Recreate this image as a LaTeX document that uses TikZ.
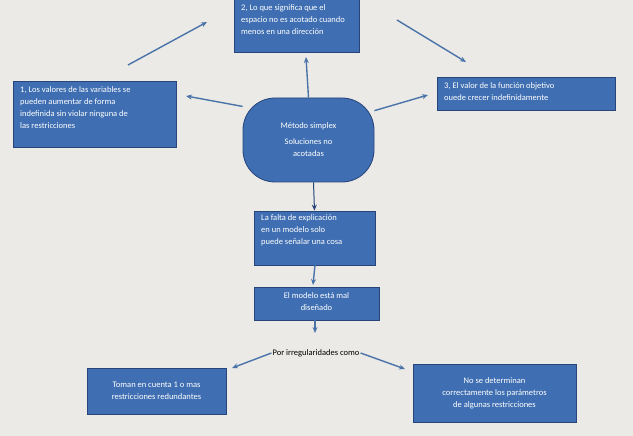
\documentclass[tikz,border=0pt]{standalone}
\usepackage{fontspec}
\setmainfont{Carlito}
\usetikzlibrary{arrows.meta}
\definecolor{bg}{HTML}{EBEAE6}
\definecolor{boxf}{HTML}{3F6FB2}
\definecolor{boxd}{HTML}{27457A}
\definecolor{arr}{HTML}{4A73AA}
\tikzset{
 bx/.style={draw=boxd,fill=boxf,line width=0.8pt,text=white,font=\fontsize{8.5}{12}\selectfont,align=left,inner sep=0pt},
 ar/.style={draw=arr,line width=1.4pt,-{Stealth[length=6pt,width=5pt]}},
 lbl/.style={text=white,font=\fontsize{8.5}{12}\selectfont,align=left,anchor=north west,inner sep=0pt}
}
\begin{document}
\begin{tikzpicture}[x=1pt,y=-1pt]
\fill[bg] (0,0) rectangle (633,436);
\useasboundingbox (0,0) rectangle (633,436);
% boxes
\draw[bx] (234,-2) rectangle (359,52);
\node[lbl] (t2) at (241,4) {2, Lo que significa que el\\espacio no es acotado cuando\\menos en una dirección};
\coordinate (b2) at (306,52);
\draw[bx] (13,81) rectangle (176,147);
\node[lbl] (t1) at (20,86) {1, Los valores de las variables se\\pueden aumentar de forma\\indefinida sin violar ninguna de\\las restricciones};
\draw[bx] (437,77) rectangle (615,110);
\node[lbl] (t3) at (444,82) {3, El valor de la función objetivo\\ouede crecer indefinidamente};
\node[bx,rounded corners=32pt,minimum width=131pt,minimum height=84pt,align=center] (c) at (308.5,140) {Método simplex\\[4pt]Soluciones no\\acotadas};
\node[bx,minimum width=121pt,minimum height=54pt] (b4) at (314.5,238) {};
\node[lbl] at (261,214) {La falta de explicación\\en un modelo solo\\puede señalar una cosa};
\node[bx,minimum width=125pt,minimum height=33pt] (b5) at (316.5,303.5) {};
\begin{scope}
\clip (254,287) rectangle (379,320);
\node[text=white,font=\fontsize{8.5}{12}\selectfont,align=center,anchor=north,inner sep=0pt] at (316.5,292) {El modelo está mal\\diseñado};
\end{scope}
\node[font=\fontsize{8.5}{10}\selectfont,inner sep=1pt] (p) at (316,353) {Por irregularidades como};
\node[bx,minimum width=139pt,minimum height=46pt,align=center] (b6) at (156.5,391) {Toman en cuenta 1 o mas\\restricciones redundantes};
\node[bx,minimum width=163pt,minimum height=58pt,align=center] (b7) at (494.5,393) {No se determinan\\correctamente los parámetros\\de algunas restricciones};
% free arrows
\coordinate (a1) at (128,65); \coordinate (a2) at (207,22);
\coordinate (a3) at (397,20); \coordinate (a4) at (466,62);
\draw[ar] (a1) -- (a2);
\draw[ar] (a3) -- (a4);
\coordinate (e2) at (306,57); \coordinate (e1) at (186,96); \coordinate (e3) at (428,95);
\draw[ar] (c.north) -- (e2);
\draw[ar] (c.153) -- (e1);
\draw[ar] (c.24) -- (e3);
\draw[ar,draw=boxd,line width=1pt] (c.south) ++(5,0) -- (b4.north);
\coordinate (e5) at (313,285);
\draw[ar] (315,265) -- (e5);
\coordinate (e6) at (315,333);
\draw[ar] (315,320) -- (e6);
\coordinate (e7) at (232,368); \coordinate (e8) at (405,369);
\draw[ar] (p.west) -- (e7);
\draw[ar] (p.east) -- (e8);
\end{tikzpicture}
\end{document}
